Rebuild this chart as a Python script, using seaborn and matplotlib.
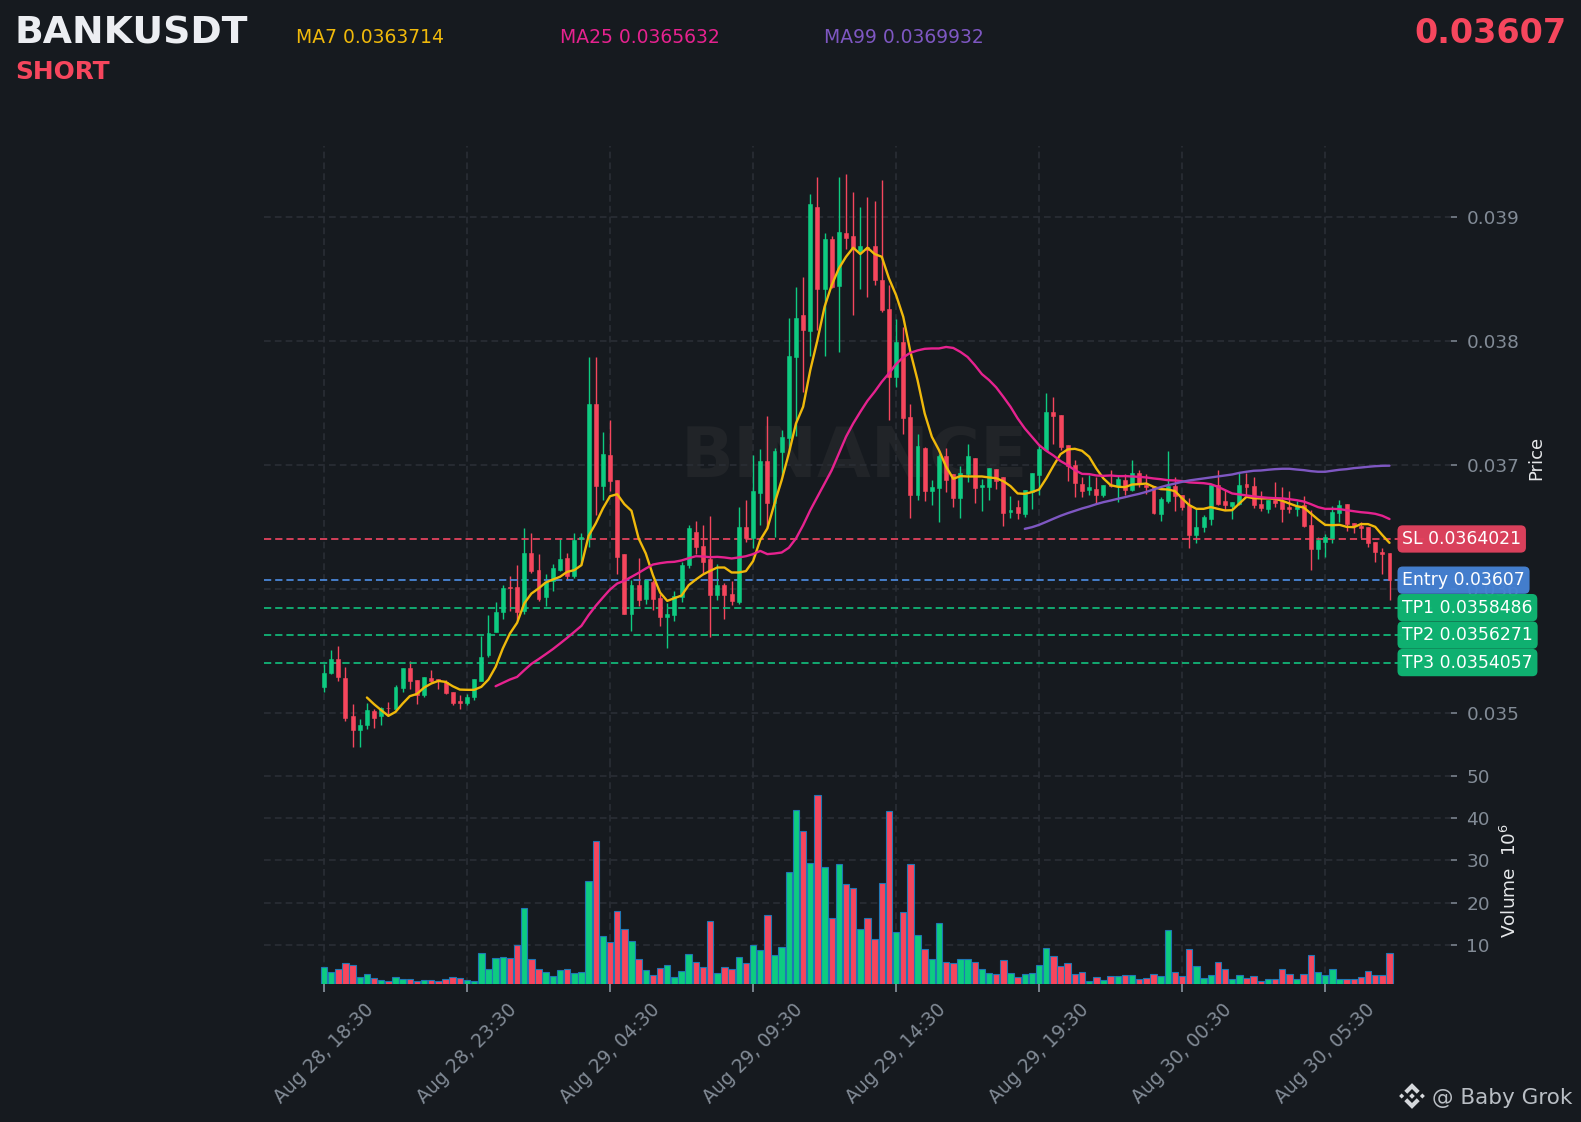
import matplotlib
matplotlib.use("Agg")
import matplotlib.pyplot as plt
from matplotlib.patches import Polygon
import numpy as np
import seaborn as sns

# prices in millionths of USDT, 15 minute candles
opens = [
    35210, 35323, 35438, 35285, 34979, 34863, 34903, 35014, 34979, 35043,
    35035, 35202, 35358, 35264, 35145, 35285, 35277, 35250, 35167, 35092,
    35078, 35129, 35258, 35465, 35653, 35815, 36011, 36011, 35823, 36288,
    36148, 35936, 36065, 36153, 36245, 36105, 36403, 36406, 37489, 36828,
    37078, 36876, 36277, 35798, 36030, 35919, 36054, 35925, 35774, 35790,
    35935, 36191, 36457, 36344, 36239, 35949, 36030, 35957, 35893, 36497,
    36406, 36774, 37030, 36691, 37102, 37218, 37871, 38207, 38078, 39078,
    38417, 38820, 38443, 38868, 38844, 38726, 38753, 38763, 38489, 38255,
    37710, 37989, 37384, 36755, 37134, 36788, 36815, 37070, 36922, 36734,
    36925, 37054, 36820, 36820, 36965, 36898, 36618, 36659, 36605, 36782,
    36917, 37121, 37425, 37400, 37159, 36997, 36844, 36796, 36804, 36755,
    36836, 36828, 36876, 36796, 36933, 36836, 36833, 36605, 36707, 36833,
    36755, 36675, 36433, 36497, 36562, 36836, 36707, 36667, 36680, 36844,
    36828, 36683, 36643, 36715, 36707, 36659, 36643, 36675, 36513, 36320,
    36376, 36409, 36610, 36683, 36530, 36505, 36497, 36376, 36296, 36288,
]
highs = [
    35398, 35511, 35538, 35366, 35075, 34952, 35081, 35035, 35049, 35086,
    35223, 35358, 35417, 35264, 35293, 35342, 35277, 35264, 35167, 35148,
    35156, 35277, 35618, 35793, 35898, 36035, 36105, 36196, 36487, 36454,
    36277, 36116, 36199, 36406, 36293, 36454, 36454, 37868, 37868, 37261,
    37360, 36876, 36277, 36070, 36245, 36075, 36070, 35962, 35882, 35984,
    36218, 36511, 36543, 36511, 36591, 36204, 36048, 36065, 36656, 36715,
    37078, 37124, 37395, 37132, 37280, 38180, 38430, 38511, 39180, 39317,
    38865, 38844, 39317, 39341, 39196, 39075, 39156, 39124, 39293, 38449,
    38172, 38113, 37487, 37245, 37145, 36874, 37091, 37132, 36922, 36992,
    37164, 37054, 36882, 36973, 36965, 36903, 36747, 36720, 36796, 36933,
    37159, 37575, 37543, 37400, 37159, 37038, 36898, 36917, 36903, 36836,
    36962, 36917, 36922, 37038, 36957, 36922, 36833, 36742, 37113, 36903,
    36755, 36734, 36645, 36594, 36836, 36962, 36796, 36699, 36930, 36930,
    36898, 36788, 36715, 36858, 36820, 36788, 36707, 36747, 36634, 36419,
    36441, 36667, 36715, 36683, 36530, 36538, 36497, 36376, 36333, 36288,
]
lows = [
    35169, 35317, 35258, 34936, 34726, 34726, 34871, 34879, 34906, 34979,
    35022, 35169, 35191, 35075, 35129, 35247, 35194, 35151, 35062, 35032,
    35065, 35108, 35258, 35452, 35653, 35753, 35823, 35747, 35801, 36124,
    35903, 35863, 35984, 36145, 36070, 36089, 36191, 36339, 36594, 36715,
    36790, 36116, 35798, 35661, 35863, 35874, 35833, 35704, 35527, 35742,
    35895, 36172, 36280, 36129, 35608, 35914, 35753, 35866, 35874, 36379,
    36333, 36513, 36489, 36419, 36909, 37118, 37231, 37589, 37879, 38086,
    37879, 38427, 37911, 38736, 38207, 38414, 38355, 38446, 38234, 37358,
    37629, 37245, 36575, 36718, 36710, 36672, 36540, 36782, 36661, 36575,
    36863, 36694, 36629, 36720, 36801, 36508, 36575, 36567, 36581, 36645,
    36755, 37121, 37167, 37118, 36871, 36742, 36742, 36758, 36688, 36737,
    36823, 36702, 36755, 36790, 36823, 36766, 36605, 36548, 36694, 36629,
    36634, 36333, 36366, 36460, 36513, 36675, 36634, 36567, 36675, 36742,
    36653, 36629, 36608, 36661, 36540, 36608, 36591, 36500, 36156, 36242,
    36258, 36371, 36538, 36465, 36449, 36406, 36341, 36215, 36118, 35909,
]
closes = [
    35325, 35438, 35290, 34960, 34866, 34906, 35027, 34960, 35043, 35038,
    35212, 35358, 35255, 35143, 35293, 35255, 35264, 35161, 35078, 35081,
    35132, 35277, 35454, 35648, 35817, 36003, 36005, 35815, 36288, 36145,
    35919, 36057, 36167, 36237, 36105, 36395, 36414, 37489, 36828, 37086,
    36871, 36258, 35798, 36030, 35911, 36075, 35919, 35774, 35796, 35941,
    36191, 36489, 36339, 36218, 35949, 36030, 35949, 35901, 36497, 36409,
    36788, 37030, 36691, 37110, 37223, 37876, 38183, 38086, 39102, 38417,
    38820, 38433, 38876, 38828, 38745, 38763, 38731, 38489, 38247, 37710,
    37989, 37379, 36755, 37151, 36788, 36820, 37070, 36876, 36731, 36930,
    37070, 36815, 36836, 36973, 36871, 36610, 36634, 36610, 36796, 36933,
    37126, 37425, 37395, 37142, 36992, 36852, 36788, 36820, 36755, 36836,
    36828, 36884, 36796, 36933, 36849, 36820, 36610, 36723, 36828, 36747,
    36659, 36433, 36497, 36578, 36836, 36688, 36675, 36699, 36836, 36820,
    36675, 36651, 36715, 36691, 36643, 36643, 36667, 36505, 36320, 36393,
    36417, 36618, 36675, 36522, 36505, 36489, 36368, 36296, 36280, 36070,
]
# volume in millions
volumes = [
    4.63, 3.45, 4.16, 5.58, 5.11, 2.42, 2.98, 2.03, 1.55, 1.32,
    2.27, 1.79, 1.79, 1.32, 1.55, 1.55, 1.32, 1.79, 2.27, 2.03,
    1.55, 1.32, 7.95, 4.16, 6.76, 7.0, 6.76, 9.84, 18.6, 6.53,
    4.16, 3.45, 2.5, 3.92, 4.16, 3.21, 3.45, 25.0, 34.47, 11.97,
    10.55, 17.89, 13.63, 10.79, 6.53, 3.92, 2.74, 4.4, 5.11, 2.27,
    3.69, 7.71, 5.82, 4.63, 15.52, 3.21, 4.63, 4.16, 7.0, 5.58,
    9.84, 8.66, 16.95, 7.47, 9.37, 27.13, 42.04, 37.07, 29.26, 45.6,
    28.31, 16.24, 29.02, 24.29, 23.34, 13.63, 16.24, 11.26, 24.52, 41.81,
    12.92, 17.66, 29.02, 12.21, 8.9, 6.53, 15.05, 5.82, 5.58, 6.53,
    6.53, 5.82, 4.16, 3.21, 2.98, 6.29, 3.21, 2.27, 2.98, 3.21,
    5.11, 9.13, 7.24, 4.87, 5.58, 2.98, 3.45, 1.32, 2.27, 1.55,
    2.5, 2.5, 2.74, 2.74, 1.79, 2.03, 2.98, 2.5, 13.39, 3.45,
    2.5, 8.9, 4.87, 2.03, 2.74, 5.82, 4.16, 1.79, 2.74, 2.03,
    2.5, 1.32, 1.79, 1.79, 4.16, 2.98, 1.79, 2.98, 7.47, 3.45,
    2.74, 4.16, 1.79, 1.79, 1.79, 2.27, 3.69, 2.74, 2.74, 7.95,
]

# moving averages, first value at candle 6 / 24 / 98
ma7 = [
    35124, 35070, 35022, 34976, 35008, 35075, 35135, 35153, 35204, 35237,
    35258, 35250, 35215, 35188, 35186, 35186, 35210, 35269, 35371, 35519,
    35640, 35726, 35882, 35962, 36003, 36051, 36075, 36097, 36137, 36151,
    36191, 36427, 36527, 36648, 36747, 36763, 36683, 36629, 36406, 36285,
    36110, 35970, 35903, 35925, 35946, 36030, 36075, 36116, 36145, 36172,
    36172, 36132, 36132, 36143, 36223, 36393, 36487, 36688, 36876, 37091,
    37333, 37468, 37763, 38005, 38274, 38449, 38583, 38677, 38750, 38699,
    38750, 38699, 38677, 38503, 38368, 38193, 37911, 37683, 37414, 37226,
    37118, 36984, 36887, 36909, 36906, 36906, 36906, 36898, 36892, 36868,
    36828, 36769, 36766, 36780, 36801, 36890, 36992, 37086, 37124, 37129,
    37113, 37065, 36970, 36890, 36836, 36823, 36820, 36841, 36844, 36849,
    36823, 36804, 36801, 36788, 36729, 36675, 36645, 36645, 36659, 36645,
    36632, 36634, 36688, 36742, 36731, 36729, 36729, 36726, 36710, 36688,
    36667, 36656, 36608, 36559, 36516, 36513, 36516, 36500, 36497, 36522,
    36522, 36500, 36433, 36371,
]
ma25 = [
    35215, 35242, 35269, 35290, 35344, 35395, 35433, 35473, 35514, 35559,
    35605, 35653, 35702, 35788, 35863, 35930, 35995, 36043, 36065, 36097,
    36129, 36164, 36196, 36207, 36215, 36218, 36229, 36247, 36263, 36261,
    36255, 36258, 36253, 36245, 36253, 36263, 36280, 36306, 36280, 36285,
    36293, 36331, 36406, 36513, 36634, 36742, 36849, 36957, 37091, 37226,
    37333, 37427, 37516, 37589, 37669, 37737, 37812, 37866, 37903, 37922,
    37935, 37938, 37938, 37950, 37942, 37910, 37869, 37804, 37731, 37683,
    37624, 37548, 37468, 37374, 37293, 37226, 37159, 37113, 37075, 37030,
    36997, 36957, 36927, 36925, 36914, 36911, 36914, 36909, 36909, 36906,
    36903, 36898, 36890, 36884, 36876, 36874, 36868, 36858, 36855, 36852,
    36844, 36823, 36796, 36769, 36761, 36753, 36745, 36739, 36734, 36731,
    36729, 36723, 36715, 36704, 36683, 36659, 36645, 36645, 36643, 36634,
    36626, 36618, 36613, 36605, 36589, 36563,
]
ma99 = [
    36484, 36497, 36516, 36540, 36565, 36589, 36610, 36629, 36648, 36664,
    36683, 36699, 36712, 36726, 36739, 36753, 36766, 36782, 36801, 36820,
    36836, 36849, 36863, 36874, 36882, 36890, 36898, 36906, 36914, 36922,
    36935, 36944, 36952, 36954, 36960, 36965, 36968, 36968, 36962, 36957,
    36949, 36944, 36944, 36952, 36960, 36965, 36973, 36978, 36984, 36989,
    36992, 36993,
]

ma_labels = ["MA7 0.0363714", "MA25 0.0365632", "MA99 0.0369932"]
level_names = ["SL", "Entry", "TP1", "TP2", "TP3"]
level_values = [0.0364021, 0.03607, 0.0358486, 0.0356271, 0.0354057]
level_texts = ["SL 0.0364021", "Entry 0.03607", "TP1 0.0358486", "TP2 0.0356271", "TP3 0.0354057"]
date_ticks = ["Aug 28, 18:30", "Aug 28, 23:30", "Aug 29, 04:30", "Aug 29, 09:30",
              "Aug 29, 14:30", "Aug 29, 19:30", "Aug 30, 00:30", "Aug 30, 05:30"]
price_ticks = [0.035, 0.036, 0.037, 0.038, 0.039]
volume_ticks = [10, 20, 30, 40, 50]

BG = "#161a1f"
GREEN = "#0ecb81"
RED = "#f6465d"
GRID = "#2a2e35"
TICK = "#828b96"
LEVEL_COLORS = {"SL": "#e2425e", "Entry": "#4682d4", "TP1": "#0fb774", "TP2": "#0fb774", "TP3": "#0fb774"}
LINE_COLORS = {"SL": "#e2425e", "Entry": "#4a86d8", "TP1": "#12b577", "TP2": "#12b577", "TP3": "#12b577"}
MA_COLORS = ["#f0b90b", "#e6228f", "#7e57c2"]

WIDTH, HEIGHT = 1581, 1122

sns.set_theme(style="dark", rc={"figure.facecolor": BG, "axes.facecolor": BG, "savefig.facecolor": BG})
plt.rcParams["font.family"] = ["DejaVu Sans"]


def fx(x):
    return x / WIDTH


def fy(y):
    return 1 - y / HEIGHT


def axes_box(left, top, right, bottom):
    return [fx(left), fy(bottom), (right - left) / WIDTH, (bottom - top) / HEIGHT]


o = np.array(opens) / 1e6
h = np.array(highs) / 1e6
l = np.array(lows) / 1e6
c = np.array(closes) / 1e6
idx = np.arange(len(c))
up = c >= o

fig = plt.figure(figsize=(WIDTH / 100, HEIGHT / 100), dpi=100)
ax = fig.add_axes(axes_box(264, 146, 1451, 765))
vax = fig.add_axes(axes_box(264, 765, 1451, 984), sharex=ax)

# price panel
ax.text(0.4975, 0.497, "BINANCE", transform=ax.transAxes, ha="center", va="center",
        fontsize=50, fontweight="bold", color="#212428", zorder=0.5)

for mask, col in [(up, GREEN), (~up, RED)]:
    ax.vlines(idx[mask], l[mask], h[mask], color=col, linewidth=1.0, zorder=2)
    ax.bar(idx[mask], np.abs(c - o)[mask], bottom=np.minimum(o, c)[mask], width=0.55,
           color=col, edgecolor=col, linewidth=0.4, zorder=3)

for name, value in zip(level_names, level_values):
    ax.hlines(value, -8.39, 155, color=LINE_COLORS[name], linewidth=1.3,
              linestyles=(0, (4, 2.2)), zorder=2.5)

for values, start, col in zip([ma7, ma25, ma99], [6, 24, 98], MA_COLORS):
    sns.lineplot(x=idx[start:], y=np.array(values) / 1e6, ax=ax, color=col, linewidth=1.7,
                 estimator=None, sort=False, zorder=4)

for name, value, text in zip(level_names, level_values, level_texts):
    ax.text(150.77, value, text, fontsize=12.4, color="white", va="center", ha="left", zorder=10,
            bbox=dict(boxstyle="round,pad=0.27,rounding_size=0.3", facecolor=LEVEL_COLORS[name],
                      edgecolor="none", alpha=0.96))

# volume panel
colours = np.where(up, "up", "down")
sns.barplot(x=idx, y=volumes, hue=colours, palette={"up": GREEN, "down": RED}, native_scale=True,
            dodge=False, width=0.9, gap=0, saturation=1, edgecolor="#1f77b4", linewidth=0.8,
            legend=False, ax=vax, zorder=3)

ax.set_xlim(-8.39, 157.6)
ax.set_ylim(0.03458, 0.03957)
vax.set_ylim(0.69, 52.6)

ax.set_yticks(price_ticks)
ax.set_yticklabels(["%.3f" % t for t in price_ticks])
vax.set_yticks(volume_ticks)
vax.set_yticklabels([str(t) for t in volume_ticks])
vax.set_xticks(idx[::20])
vax.set_xticklabels(date_ticks, rotation=45, ha="center", rotation_mode="default")

for a in [ax, vax]:
    a.set_xlabel("")
    a.set_ylabel("")
    a.yaxis.tick_right()
    a.set_axisbelow(True)
    for spine in a.spines.values():
        spine.set_visible(False)
    a.grid(True, color=GRID, linewidth=1.2, linestyle=(0, (4, 2.5)))
    a.tick_params(axis="y", colors=TICK, labelsize=13.3, length=4.5, width=1.1, pad=6.5, right=True, left=False)
    a.tick_params(axis="x", colors=TICK, labelsize=13.5, length=5.5, width=1.3, pad=6, bottom=True)
ax.tick_params(axis="x", bottom=False, labelbottom=False)

# header and footer texts
fig.text(fx(15), fy(43), "BANKUSDT", fontsize=27.2, fontweight="bold", color="#eceef2", va="baseline")
fig.text(fx(15), fy(79), "SHORT", fontsize=17.9, fontweight="bold", color=RED, va="baseline")
fig.text(fx(1566), fy(43), "%.5f" % c[-1], fontsize=24, fontweight="bold", color=RED, ha="right", va="baseline")
for text, x, col in zip(ma_labels, [296, 560, 824], MA_COLORS):
    fig.text(fx(x), fy(43), text, fontsize=13.5, color=col, va="baseline")
fig.text(fx(1536), fy(458), "Price", fontsize=13, color="#e6e8ea", rotation=90, ha="center", va="center")
fig.text(fx(1510), fy(880), "Volume  $10^{6}$", fontsize=13.3, color="#e6e8ea", rotation=90, ha="center", va="center")
fig.text(fx(1432), fy(1104), "@ Baby Grok", fontsize=15.5, color="#b9bec4", va="baseline")

# binance logo beside the credit
logo = fig.add_axes(axes_box(1398, 1082, 1426, 1110))
logo.set_xlim(-1, 1)
logo.set_ylim(-1, 1)
logo.axis("off")
logo_shapes = [
    [(0, 0.2), (0.2, 0), (0, -0.2), (-0.2, 0)],
    [(-0.74, 0.18), (-0.56, 0), (-0.74, -0.18), (-0.92, 0)],
    [(0.74, 0.18), (0.92, 0), (0.74, -0.18), (0.56, 0)],
    [(0, 0.92), (0.55, 0.37), (0.34, 0.16), (0, 0.5), (-0.34, 0.16), (-0.55, 0.37)],
    [(0, -0.92), (0.55, -0.37), (0.34, -0.16), (0, -0.5), (-0.34, -0.16), (-0.55, -0.37)],
]
for shape in logo_shapes:
    logo.add_patch(Polygon(shape, closed=True, facecolor="#d5d8dc", edgecolor="none"))

fig.savefig("out.png", dpi=100, facecolor=BG)
